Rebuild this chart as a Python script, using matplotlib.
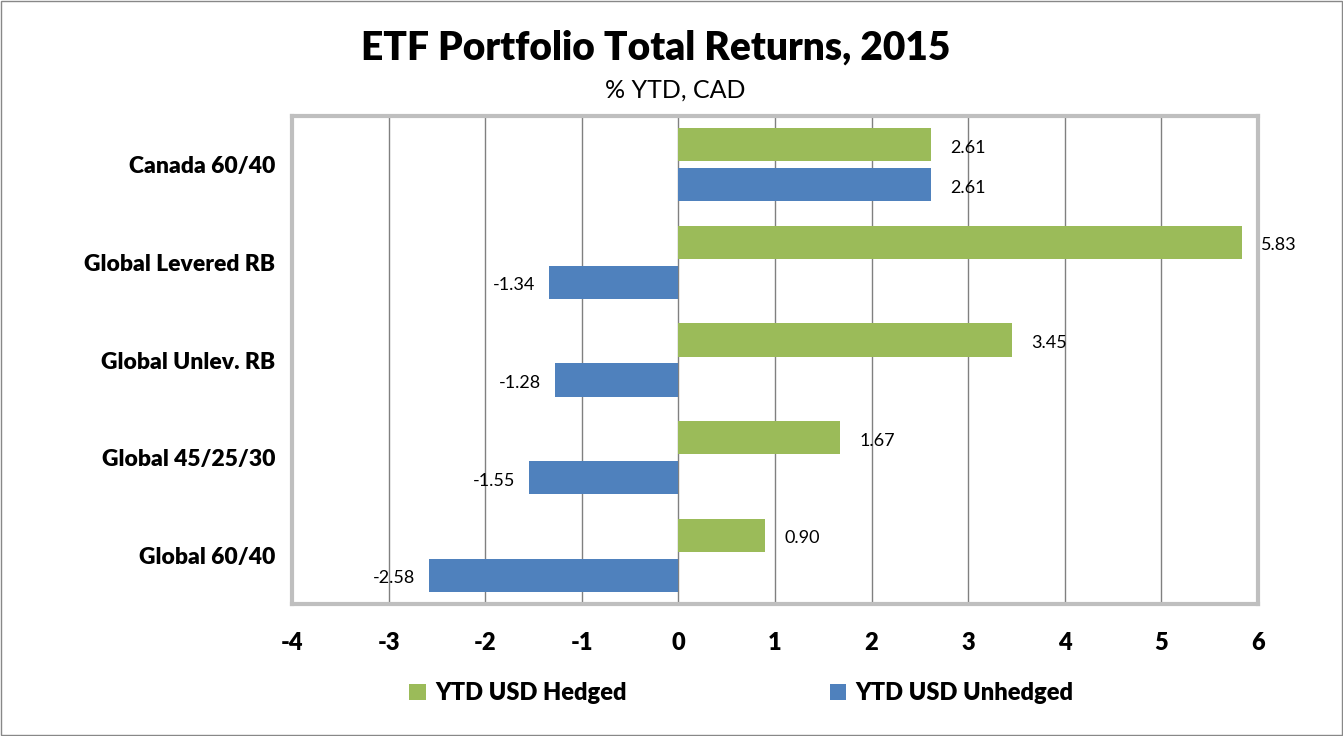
import matplotlib
matplotlib.use("Agg")
from matplotlib import pyplot as plt
from matplotlib.patches import Rectangle
import numpy as np

plt.rcParams['font.family'] = ['Lato', 'DejaVu Sans']

categories = ['Canada 60/40', 'Global Levered RB', 'Global Unlev. RB', 'Global 45/25/30', 'Global 60/40']
hedged = [2.61, 5.83, 3.45, 1.67, 0.90]
unhedged = [2.61, -1.34, -1.28, -1.55, -2.58]
ticks = [-4, -3, -2, -1, 0, 1, 2, 3, 4, 5, 6]

green = '#9BBB59'
blue = '#4F81BD'

fig = plt.figure(figsize=(13.43, 7.36), dpi=100)
ax = fig.add_axes([0.2174, 0.1793, 0.7193, 0.6631])

y = np.arange(len(categories))
h = 0.34
off = 0.205
bh = ax.barh(y - off, hedged, height=h, color=green, label='YTD USD Hedged', zorder=3)
bu = ax.barh(y + off, unhedged, height=h, color=blue, label='YTD USD Unhedged', zorder=3)

ax.set_xlim(-4, 6)
ax.set_ylim(4.5, -0.5)
ax.set_xticks(ticks)
ax.set_xticklabels([str(t) for t in ticks], fontsize=17, fontweight='heavy')
ax.set_yticks(y)
ax.set_yticklabels(categories, fontsize=16.5, fontweight='heavy')
ax.tick_params(length=0, pad=12)
ax.tick_params(axis='x', pad=20)
ax.grid(axis='x', color='#808080', linewidth=1, zorder=0)

for s in ax.spines.values():
    s.set_color('#BFBFBF')
    s.set_linewidth(3)

for bars in (bh, bu):
    for b in bars:
        v = b.get_width()
        yc = b.get_y() + b.get_height() / 2
        if v >= 0:
            ax.annotate(f'{v:.2f}', (v, yc), xytext=(14, -1), textcoords='offset points',
                        ha='left', va='center_baseline', fontsize=13)
        else:
            ax.annotate(f'{v:.2f}', (v, yc), xytext=(-10, -1), textcoords='offset points',
                        ha='right', va='center_baseline', fontsize=13)

fig.text(0.488, 0.935, 'ETF Portfolio Total Returns, 2015', ha='center', va='center',
         fontsize=28, fontweight='heavy')
fig.text(0.503, 0.877, '% YTD, CAD', ha='center', va='center', fontsize=18)

fig.legend(handles=[bh, bu], loc='center', bbox_to_anchor=(0.552, 0.058), ncol=2,
           frameon=False, prop={'size': 17, 'weight': 'heavy'}, handlelength=0.7,
           handleheight=0.7, handletextpad=0.4, columnspacing=8.6)

fig.patches.append(Rectangle((0.001, 0.001), 0.998, 0.998, transform=fig.transFigure,
                             fill=False, edgecolor='#888888', linewidth=1))

fig.savefig('out.png', dpi=100)
